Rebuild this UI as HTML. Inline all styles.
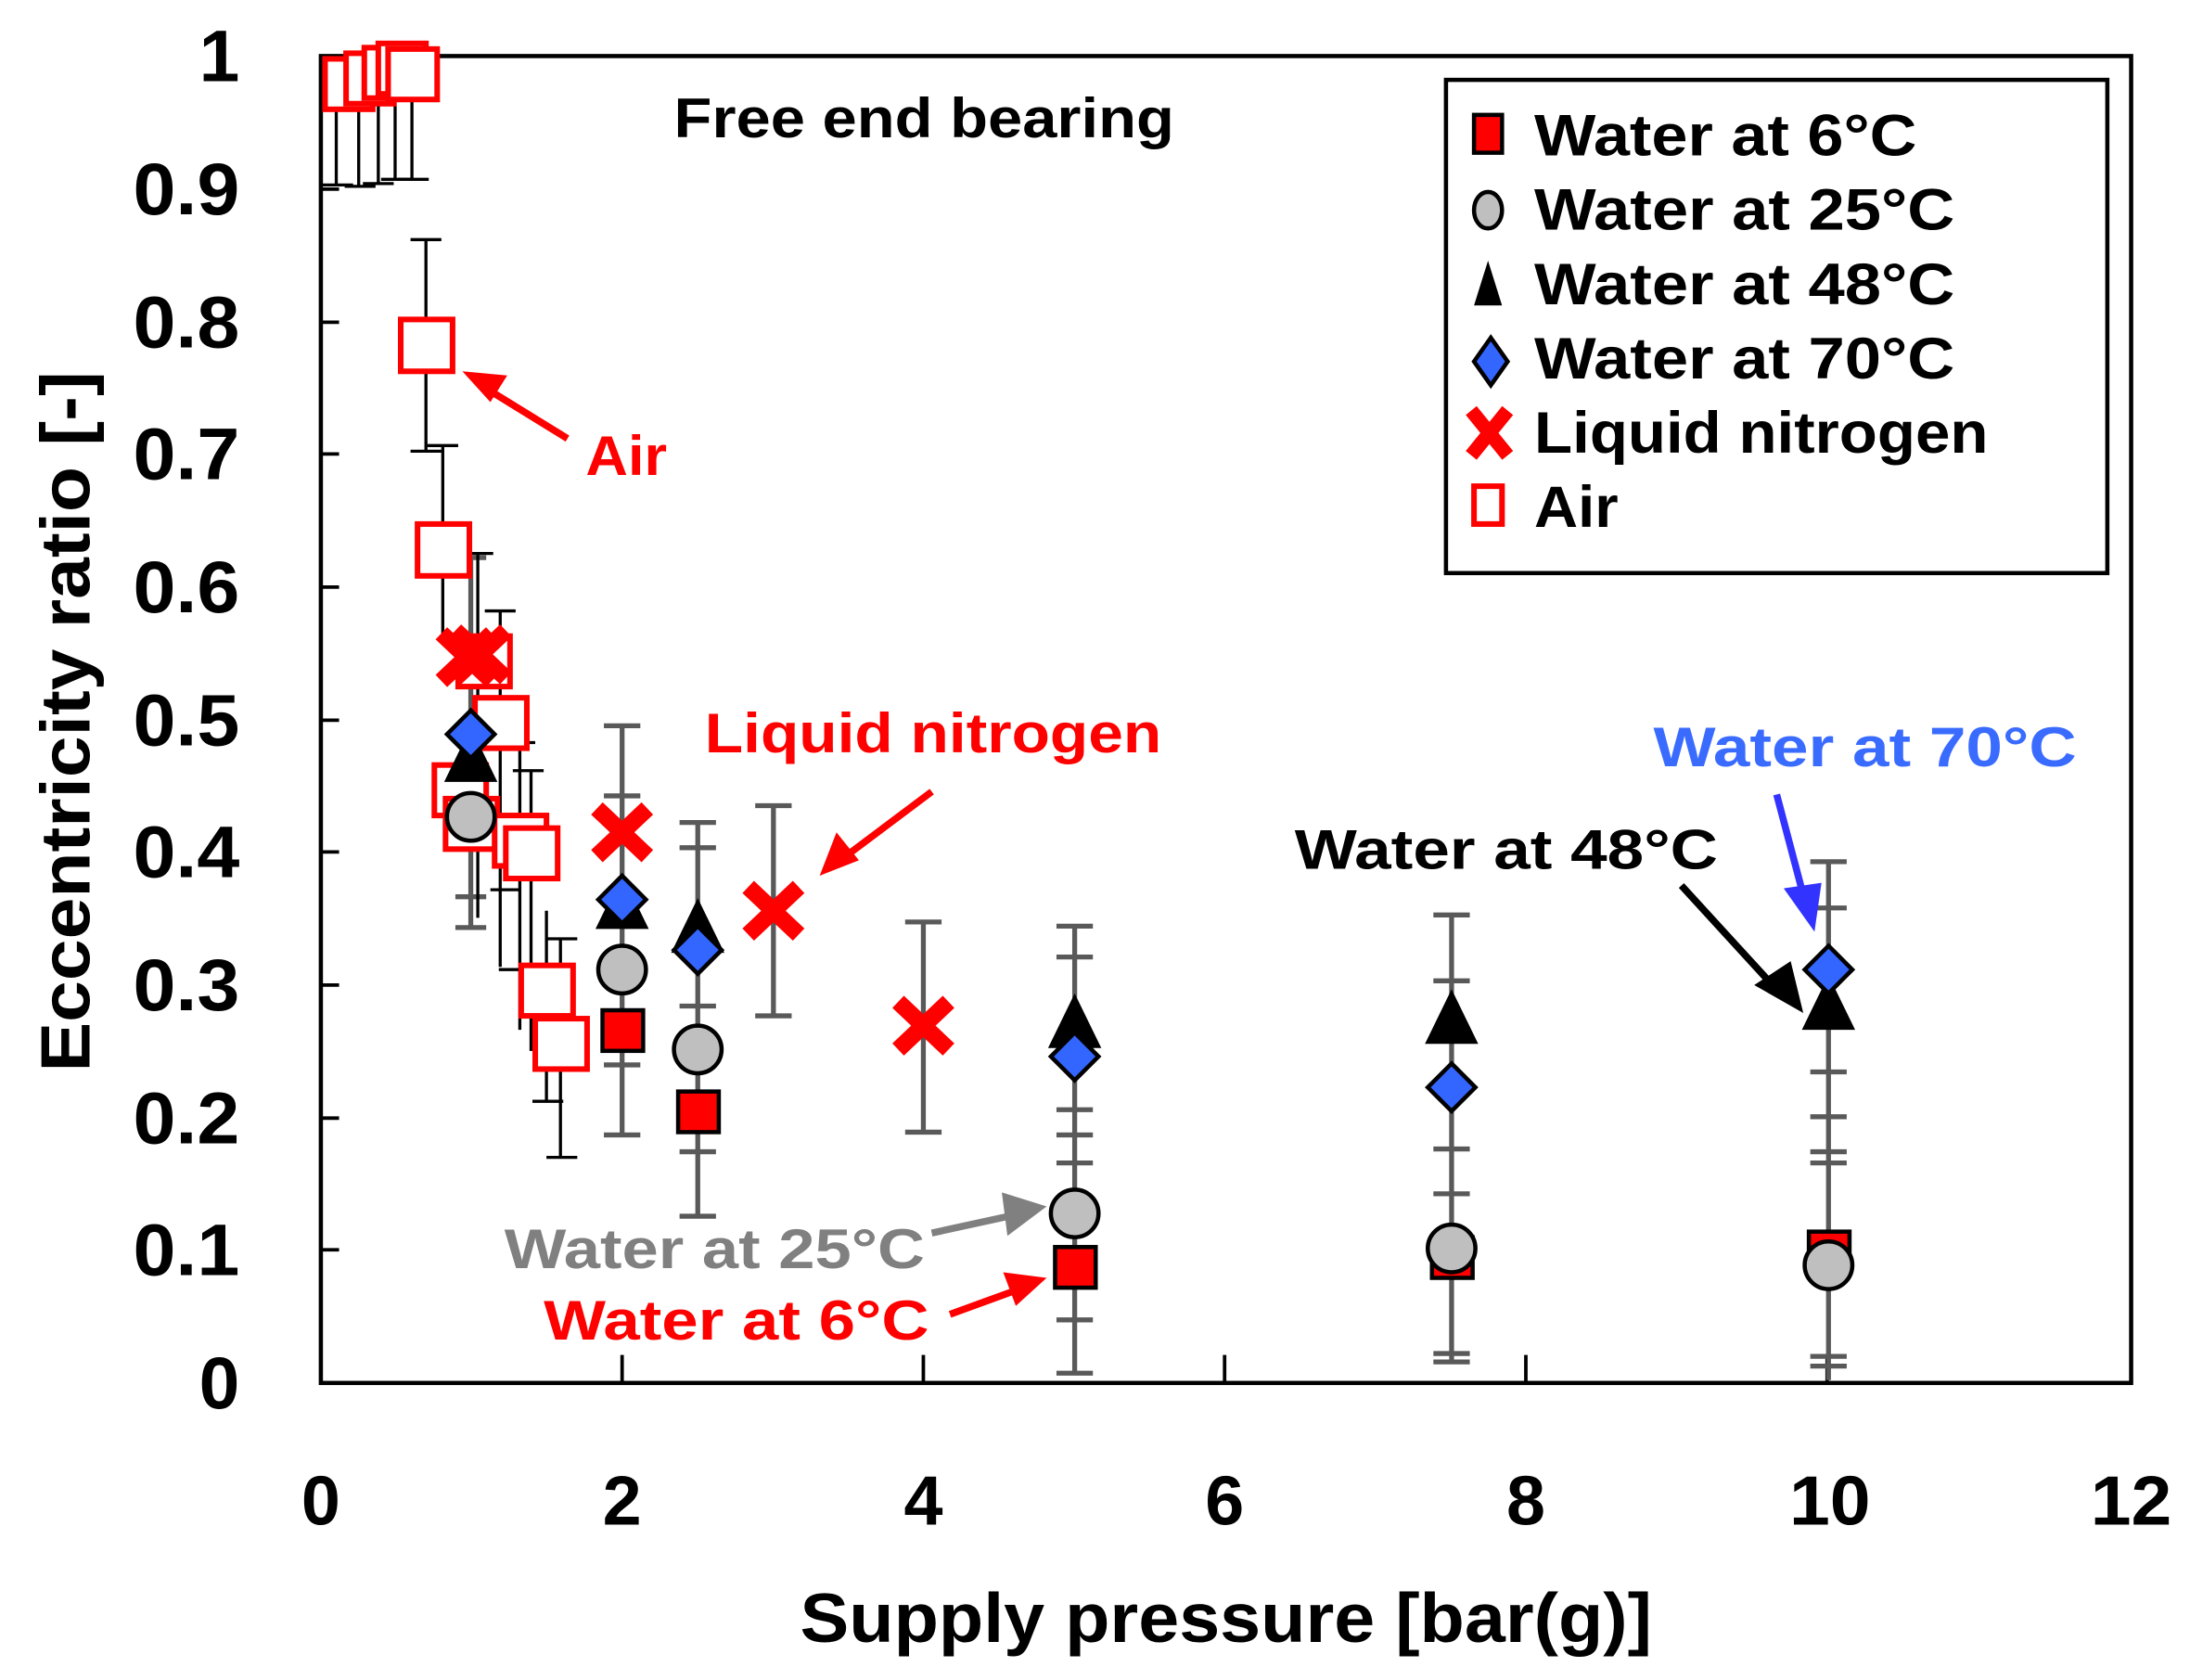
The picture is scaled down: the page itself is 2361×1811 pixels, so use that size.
<!DOCTYPE html>
<html><head><meta charset="utf-8"><style>
html,body{margin:0;padding:0;background:#fff;}
svg{display:block;}
text{font-family:"Liberation Sans","NanumGothic",sans-serif;font-weight:bold;}
</style></head><body>
<svg width="2361" height="1811" viewBox="0 0 1563 1199" preserveAspectRatio="none" xmlns="http://www.w3.org/2000/svg">
<rect width="1563" height="1199" fill="#fff"/>
<rect x="229" y="40" width="1292" height="947" fill="none" stroke="#000" stroke-width="3"/>
<g stroke="#000" stroke-width="2.5">
<line x1="229" x2="242" y1="40" y2="40"/><line x1="229" x2="242" y1="135" y2="135"/><line x1="229" x2="242" y1="230" y2="230"/><line x1="229" x2="242" y1="324" y2="324"/><line x1="229" x2="242" y1="419" y2="419"/><line x1="229" x2="242" y1="514" y2="514"/><line x1="229" x2="242" y1="608" y2="608"/><line x1="229" x2="242" y1="703" y2="703"/><line x1="229" x2="242" y1="798" y2="798"/><line x1="229" x2="242" y1="892" y2="892"/>
<line x1="444" x2="444" y1="967" y2="987"/><line x1="659" x2="659" y1="967" y2="987"/><line x1="874" x2="874" y1="967" y2="987"/><line x1="1089" x2="1089" y1="967" y2="987"/><line x1="1304" x2="1304" y1="967" y2="987"/>
</g>
<g font-size="52" text-anchor="end" fill="#000">
<text x="171" y="58">1</text>
<text x="171" y="153" textLength="76" lengthAdjust="spacingAndGlyphs">0.9</text>
<text x="171" y="248" textLength="76" lengthAdjust="spacingAndGlyphs">0.8</text>
<text x="171" y="342" textLength="76" lengthAdjust="spacingAndGlyphs">0.7</text>
<text x="171" y="437" textLength="76" lengthAdjust="spacingAndGlyphs">0.6</text>
<text x="171" y="532" textLength="76" lengthAdjust="spacingAndGlyphs">0.5</text>
<text x="171" y="626" textLength="76" lengthAdjust="spacingAndGlyphs">0.4</text>
<text x="171" y="721" textLength="76" lengthAdjust="spacingAndGlyphs">0.3</text>
<text x="171" y="816" textLength="76" lengthAdjust="spacingAndGlyphs">0.2</text>
<text x="171" y="910" textLength="76" lengthAdjust="spacingAndGlyphs">0.1</text>
<text x="171" y="1005">0</text>
</g>
<g font-size="50" text-anchor="middle" fill="#000">
<text x="229" y="1088">0</text><text x="444" y="1088">2</text><text x="659" y="1088">4</text><text x="874" y="1088">6</text><text x="1089" y="1088">8</text><text x="1306" y="1088" textLength="58" lengthAdjust="spacingAndGlyphs">10</text><text x="1521" y="1088" textLength="58" lengthAdjust="spacingAndGlyphs">12</text>
</g>
<text x="875" y="1172" font-size="50" text-anchor="middle" textLength="608" lengthAdjust="spacingAndGlyphs">Supply pressure [bar(g)]</text>
<text transform="translate(64,515) rotate(-90)" font-size="50" text-anchor="middle" textLength="500" lengthAdjust="spacingAndGlyphs">Eccentricity ratio [-]</text>

<g stroke="#595959" stroke-width="3.5" fill="none">
<path d="M336 398V662 M325 398h22 M325 470h22 M325 640h22 M325 662h22"/>
<path d="M444 518V810 M431 518h26 M431 568h26 M431 703h26 M431 810h26 M431 760h26"/>
<path d="M498 587V868 M485 587h26 M485 605h26 M485 718h26 M485 822h26 M485 868h26"/>
<path d="M552 575V725 M539 575h26 M539 725h26"/>
<path d="M659 658V808 M646 658h26 M646 808h26"/>
<path d="M767 661V980 M754 661h26 M754 683h26 M754 792h26 M754 810h26 M754 830h26 M754 942h26 M754 980h26"/>
<path d="M1036 653V972 M1023 653h26 M1023 700h26 M1023 820h26 M1023 852h26 M1023 966h26 M1023 972h26"/>
<path d="M1305 615V985 M1292 615h26 M1292 648h26 M1292 765h26 M1292 797h26 M1292 822h26 M1292 830h26 M1292 968h26 M1292 975h26"/>
</g>
<g stroke="#000" stroke-width="2.2" fill="none">
<path d="M240 70V132 M230 132h22"/>
<path d="M256 70V133 M246 133h22"/>
<path d="M270 70V131 M259 131h22"/>
<path d="M282 70V128 M272 128h22"/>
<path d="M294 70V128 M284 128h22"/>
<path d="M304 171V322 M293 171h22 M293 322h22"/>
<path d="M316 318V460 M305 318h22"/>
<path d="M341 395V655 M330 395h22 M330 603h22"/>
<path d="M357 436V690 M346 436h22 M350 635h22"/>
<path d="M371 530V735 M360 530h22 M356 692h22"/>
<path d="M379 550V750 M366 550h22"/>
<path d="M390 650V786 M380 786h22"/>
<path d="M400 670V826 M390 670h22 M390 826h22"/>
</g>

<g fill="#fff" stroke="#f00" stroke-width="4">
<rect x="232" y="42" width="34" height="36"/>
<rect x="247" y="38" width="34" height="36"/>
<rect x="260" y="34" width="34" height="36"/>
<rect x="270" y="31" width="34" height="36"/>
<rect x="277" y="35" width="35" height="36"/>
<rect x="286" y="228" width="37" height="37"/>
<rect x="298" y="374" width="37" height="37"/>
<rect x="310" y="546" width="37" height="36"/>
<rect x="318" y="570" width="37" height="36"/>
<rect x="327" y="454" width="37" height="36"/>
<rect x="339" y="498" width="37" height="36"/>
<rect x="353" y="582" width="37" height="36"/>
<rect x="361" y="591" width="37" height="36"/>
<rect x="372" y="689" width="37" height="36"/>
<rect x="382" y="727" width="37" height="36"/>
</g>
<g stroke="#f00" stroke-width="12" stroke-linecap="butt">
<path d="M315 452L351 486 M351 452L315 486"/>
<path d="M325 450L361 484 M361 450L325 484"/>
<path d="M426 577L462 611 M462 577L426 611"/>
<path d="M534 633L570 667 M570 633L534 667"/>
<path d="M641 715L677 749 M677 715L641 749"/>
</g>
<g fill="#f00" stroke="#000" stroke-width="3">
<rect x="430" y="721" width="29" height="29"/>
<rect x="484" y="779" width="29" height="29"/>
<rect x="753" y="890" width="29" height="29"/>
<rect x="1022" y="883" width="29" height="29"/>
<rect x="1291" y="879" width="29" height="29"/>
</g>
<g fill="#bfbfbf" stroke="#000" stroke-width="3">
<circle cx="336" cy="583" r="17"/>
<circle cx="444" cy="692" r="17"/>
<circle cx="498" cy="749" r="17"/>
<circle cx="767" cy="866" r="17"/>
<circle cx="1036" cy="891" r="17"/>
<circle cx="1305" cy="903" r="17"/>
</g>
<g fill="#000">
<path d="M336 519L355 558H317Z"/>
<path d="M444 624L463 663H425Z"/>
<path d="M498 641L517 680H479Z"/>
<path d="M767 709L786 748H748Z"/>
<path d="M1036 706L1055 745H1017Z"/>
<path d="M1305 696L1324 735H1286Z"/>
</g>
<g fill="#3366ff" stroke="#000" stroke-width="3">
<path d="M336 507L353 524L336 541L319 524Z"/>
<path d="M444 625L461 642L444 659L427 642Z"/>
<path d="M498 661L515 678L498 695L481 678Z"/>
<path d="M767 737L784 754L767 771L750 754Z"/>
<path d="M1036 759L1053 776L1036 793L1019 776Z"/>
<path d="M1305 675L1322 692L1305 709L1288 692Z"/>
</g>

<text x="481" y="98" font-size="40" textLength="357" lengthAdjust="spacingAndGlyphs">Free end bearing</text>
<text x="418" y="339" font-size="40" fill="#f00" textLength="58" lengthAdjust="spacingAndGlyphs">Air</text>
<line x1="405" y1="313" x2="345" y2="276" stroke="#f00" stroke-width="5"/>
<path d="M330 265L362 268L350 287Z" fill="#f00"/>
<text x="503" y="537" font-size="40" fill="#f00" textLength="326" lengthAdjust="spacingAndGlyphs">Liquid nitrogen</text>
<line x1="665" y1="565" x2="605" y2="610" stroke="#f00" stroke-width="5"/>
<path d="M585 625L597 594L613 614Z" fill="#f00"/>
<text x="1180" y="547" font-size="40" fill="#3a6bff" textLength="302" lengthAdjust="spacingAndGlyphs">Water at 70°C</text>
<line x1="1268" y1="567" x2="1286" y2="635" stroke="#3333ff" stroke-width="5"/>
<path d="M1295 665L1273 634L1300 630Z" fill="#3333ff"/>
<text x="924" y="620" font-size="40" fill="#000" textLength="302" lengthAdjust="spacingAndGlyphs">Water at 48°C</text>
<line x1="1200" y1="632" x2="1265" y2="703" stroke="#000" stroke-width="5"/>
<path d="M1287 723L1252 703L1278 686Z" fill="#000"/>
<text x="360" y="905" font-size="40" fill="#808080" textLength="300" lengthAdjust="spacingAndGlyphs">Water at 25°C</text>
<line x1="665" y1="880" x2="720" y2="868" stroke="#808080" stroke-width="5"/>
<path d="M747 861L715 851L719 882Z" fill="#808080"/>
<text x="388" y="956" font-size="40" fill="#f00" textLength="275" lengthAdjust="spacingAndGlyphs">Water at 6°C</text>
<line x1="678" y1="938" x2="722" y2="922" stroke="#f00" stroke-width="5"/>
<path d="M747 912L716 908L725 932Z" fill="#f00"/>

<rect x="1032" y="57" width="472" height="352" fill="#fff" stroke="#000" stroke-width="3"/>
<rect x="1052" y="82" width="20" height="27" fill="#f00" stroke="#000" stroke-width="3"/>
<ellipse cx="1062" cy="150" rx="10" ry="13" fill="#bfbfbf" stroke="#000" stroke-width="3"/>
<path d="M1062 186L1072 218H1052Z" fill="#000"/>
<path d="M1064 241L1076 258L1064 275L1052 258Z" fill="#3366ff" stroke="#000" stroke-width="3"/>
<path d="M1050 293L1076 325 M1076 293L1050 325" stroke="#f00" stroke-width="10"/>
<rect x="1052" y="347" width="20" height="27" fill="#fff" stroke="#f00" stroke-width="4"/>
<g font-size="42">
<text x="1095" y="111" textLength="273" lengthAdjust="spacingAndGlyphs">Water at 6°C</text>
<text x="1095" y="164" textLength="300" lengthAdjust="spacingAndGlyphs">Water at 25°C</text>
<text x="1095" y="217" textLength="300" lengthAdjust="spacingAndGlyphs">Water at 48°C</text>
<text x="1095" y="270" textLength="300" lengthAdjust="spacingAndGlyphs">Water at 70°C</text>
<text x="1095" y="323" textLength="324" lengthAdjust="spacingAndGlyphs">Liquid nitrogen</text>
<text x="1095" y="376" textLength="60" lengthAdjust="spacingAndGlyphs">Air</text>
</g>
</svg>
</body></html>
